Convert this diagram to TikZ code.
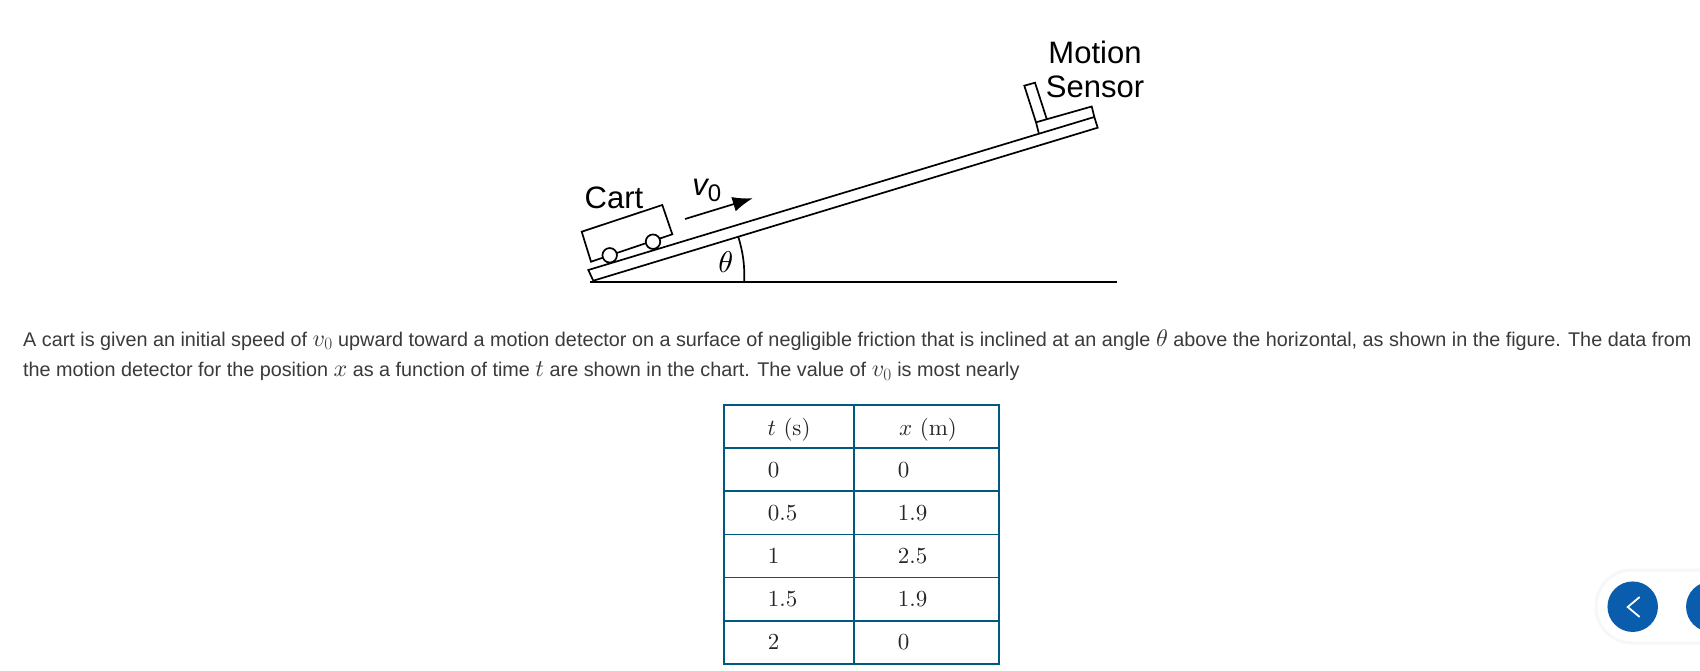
\documentclass[tikz,border=0pt]{standalone}
\usepackage{amsmath}
\usepackage{fontspec}
\setmainfont{Liberation Sans}
\newfontfamily\figfont{Liberation Sans}
\newfontfamily\tabfont[OpticalSize=10]{Latin Modern Roman}
\usetikzlibrary{arrows.meta}
\DeclareFontFamily{OML}{cmm}{\skewchar\font'177}
\DeclareFontShape{OML}{cmm}{m}{it}{<-> cmmi10}{}
\DeclareMathSizes{19.8}{24}{17}{13}
\DeclareMathSizes{23}{23}{16}{12}
\DeclareMathSizes{30}{30}{21}{15}
\definecolor{tablerule}{HTML}{005A80}
\definecolor{navblue}{HTML}{0A5CAD}
\definecolor{bodytext}{HTML}{3A3A3A}
\tikzset{
    figline/.style={draw=black,line width=1.7pt},
    figlabel/.style={font=\figfont\fontsize{31}{33.5}\selectfont,align=center,inner sep=0pt},
    wheel/.style={circle,draw=black,line width=1.7pt,fill=white,minimum size=14.5pt,inner sep=0pt},
    bodyline/.style={anchor=base west,inner sep=0pt,text=bodytext,font=\fontsize{19.8}{24}\selectfont},
    cell/.style={anchor=base west,inner sep=0pt,text=black!85,font=\tabfont\fontsize{23}{28}\selectfont},
    headcell/.style={cell,anchor=base},
    navbtn/.style={circle,fill=navblue,minimum size=50.5pt,inner sep=0pt}
}
\begin{document}
\begin{tikzpicture}[x=1pt,y=-1pt]
        \clip (0,0) rectangle (1700,671);
        \fill[white] (0,0) rectangle (1700,671);

        \coordinate (rampA) at (588.3,270);
        \coordinate (rampB) at (593.3,280.7);
        \coordinate (rampC) at (1097.7,127.7);
        \coordinate (rampD) at (1094.3,117);
        \coordinate (groundL) at (590,281.5);
        \coordinate (groundR) at (1117,281.5);
        \draw[figline] (rampA) -- (rampB) -- (rampC) -- (rampD) -- cycle;
        \draw[figline,line width=2pt] (groundL) -- (groundR);

        \coordinate (arcA) at (738.3,236.7);
        \coordinate (arcB) at (744.3,281.7);
        \draw[figline] (arcA) to[bend left=8.5] (arcB);
        \node (thetalabel) at (725.7,262) {\fontsize{30}{30}\selectfont$\theta$};

        \coordinate (cartA) at (581.7,231.7);
        \coordinate (cartB) at (662.3,205);
        \coordinate (cartC) at (672.3,234.3);
        \coordinate (cartD) at (591,261.7);
        \draw[figline] (cartA) -- (cartB) -- (cartC) -- (cartD) -- cycle;
        \node[wheel] (wheelL) at (609.7,255.3) {};
        \node[wheel] (wheelR) at (653,241.7) {};
        \node[figlabel] (cartlabel) at (614,198) {Cart};

        \coordinate (speedA) at (685,219);
        \coordinate (speedB) at (752.7,198.3);
        \draw[figline,-{Latex[length=20pt,width=15pt]}] (speedA) -- (speedB);
        \node[figlabel] (speedlabel) at (706.7,190) {\itshape v\raisebox{-6pt}{\upshape\fontsize{24}{24}\selectfont 0}};

        \coordinate (blockA) at (1036,122.3);
        \coordinate (blockB) at (1091.7,106.5);
        \coordinate (blockC) at (1039,134);
        \coordinate (postA) at (1024.3,85.7);
        \coordinate (postB) at (1035,82.7);
        \coordinate (postC) at (1046.7,119);
        \draw[figline] (blockC) -- (blockA) -- (blockB) -- (rampD);
        \draw[figline] (blockA) -- (postA) -- (postB) -- (postC);
        \node[figlabel] (sensorlabel) at (1095,69.5) {Motion\\Sensor};

        \node[bodyline] (lineone) at (23,346) {A cart is given an initial speed of $v_0$ upward toward a motion detector on a surface of negligible friction that is inclined at an angle $\theta$ above the horizontal, as shown in the figure. The data from};
        \node[bodyline] (linetwo) at (23,376.7) {the motion detector for the position $x$ as a function of time $t$ are shown in the chart. The value of $v_0$ is most nearly};

        \foreach \y/\w in {404.7/2,448/2,490.7/2,534.3/1,577.3/1,620.7/2,664.3/2}
        {
            \draw[tablerule,line width=\w pt] (724,\y) -- (999,\y);
        }
        \foreach \x in {724,853.7,999}
        {
            \draw[tablerule,line width=2pt] (\x,404) -- (\x,665);
        }
        \node[headcell] (headt) at (789,435) {$t$ (s)};
        \node[headcell] (headx) at (928,435) {$x$ (m)};
        \foreach \i/\y/\t/\v in {1/477/0/0,2/520/0.5/1.9,3/563.3/1/2.5,4/606.7/1.5/1.9,5/649.3/2/0}
        {
            \node[cell] (tcell\i) at (767.7,\y) {\t};
            \node[cell] (xcell\i) at (897.7,\y) {\v};
        }

        \draw[black!3,line width=3pt,fill=white,rounded corners=36pt] (1596,570) rectangle (1760,643);
        \node[navbtn] (btnback) at (1632.7,606.7) {};
        \node[navbtn] (btnnext) at (1711.3,606.7) {};
        \coordinate (chevA) at (1639.3,597.3);
        \coordinate (chevB) at (1627.7,607);
        \coordinate (chevC) at (1639.3,616.7);
        \draw[white,line width=1.8pt,line cap=round] (chevA) -- (chevB) -- (chevC);
    \end{tikzpicture}
\end{document}
